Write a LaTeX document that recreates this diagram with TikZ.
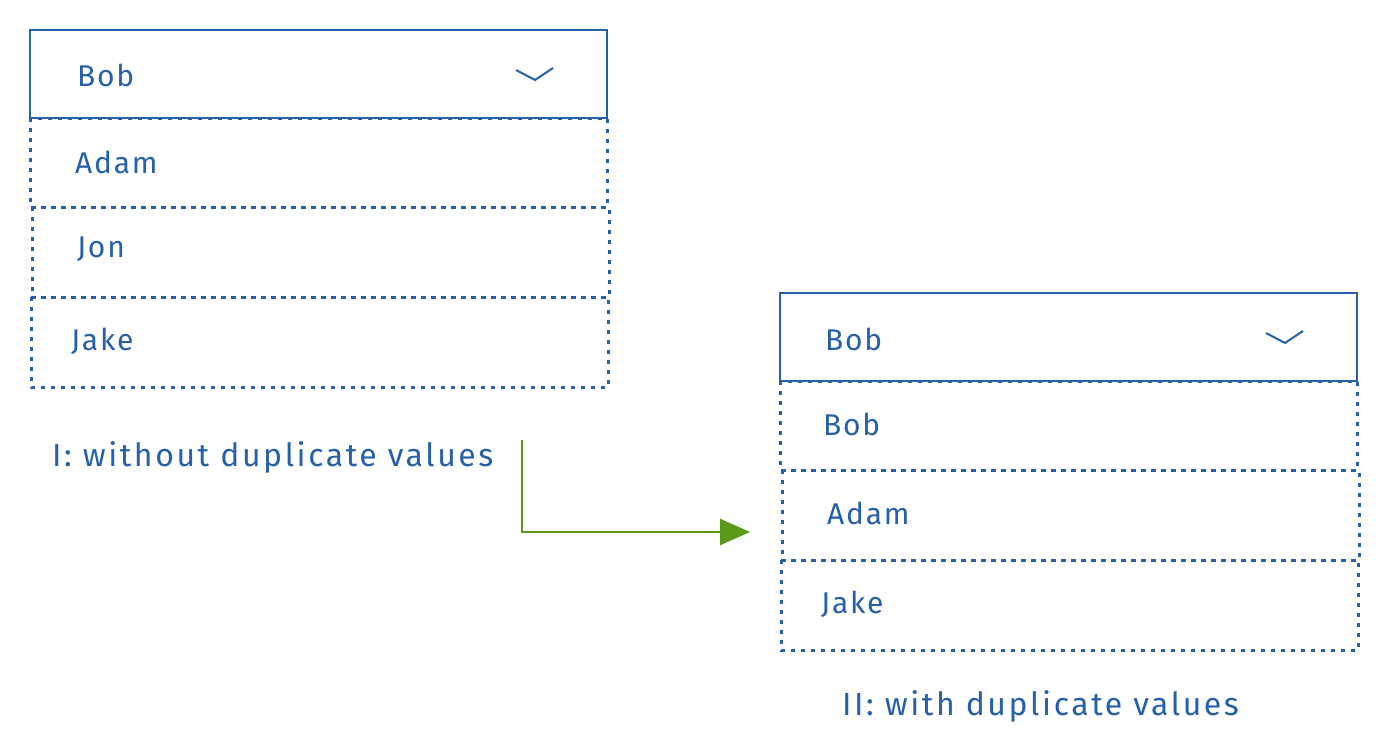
\documentclass[tikz,border=0pt]{standalone}
\usepackage{fontspec}
\setmainfont{Fira Sans}
\usetikzlibrary{arrows.meta}
\definecolor{bl}{HTML}{2560A8}
\definecolor{gr}{HTML}{5A9A1A}
\tikzset{
 hdr/.style={draw=bl,line width=1pt},
 row/.style={draw=bl,line width=1.5pt,dash pattern=on 2.2pt off 2.8pt},
 lbl/.style={text=bl,anchor=west,font=\fontsize{15}{18}\selectfont\addfontfeature{LetterSpace=6}},
 captxt/.style={text=bl,anchor=west,font=\fontsize{16}{18}\selectfont\addfontfeature{LetterSpace=8}}
}
\begin{document}
\begin{tikzpicture}[x=0.5pt,y=-0.5pt]
\useasboundingbox (0,0) rectangle (1400,738);
% left
\draw[hdr] (30,30) rectangle (607,118);
\draw[row] (30,118) rectangle (607,207);
\draw[row] (32,207) rectangle (609,297);
\draw[row] (31,297) rectangle (608,387);
\node[lbl] (lb) at (70,75) {Bob};
\node[lbl] (la) at (68,162) {Adam};
\node[lbl] (lj) at (70,249) {Jon};
\node[lbl] (lk) at (64,341) {Jake};
\draw[bl,line width=1pt] (516,70) -- (535,80) -- (553,68);
\node[captxt] (c1) at (45,457) {I: without duplicate values};
% right
\draw[hdr] (780,293) rectangle (1357,381);
\draw[row] (780,381) rectangle (1357,470);
\draw[row] (782,470) rectangle (1359,560);
\draw[row] (781,560) rectangle (1358,650);
\node[lbl] (rb) at (818,339) {Bob};
\node[lbl] (rb2) at (816,424) {Bob};
\node[lbl] (ra) at (820,513) {Adam};
\node[lbl] (rk) at (814,604) {Jake};
\draw[bl,line width=1pt] (1266,333) -- (1285,343) -- (1303,331);
\node[captxt] (c2) at (835,706) {II: with duplicate values};
% arrow
\coordinate (s) at (522,440);
\coordinate (e) at (750,532);
\draw[gr,line width=1.2pt,-{Triangle[length=15pt,width=13pt]}] (s) |- (e);
\end{tikzpicture}
\end{document}
